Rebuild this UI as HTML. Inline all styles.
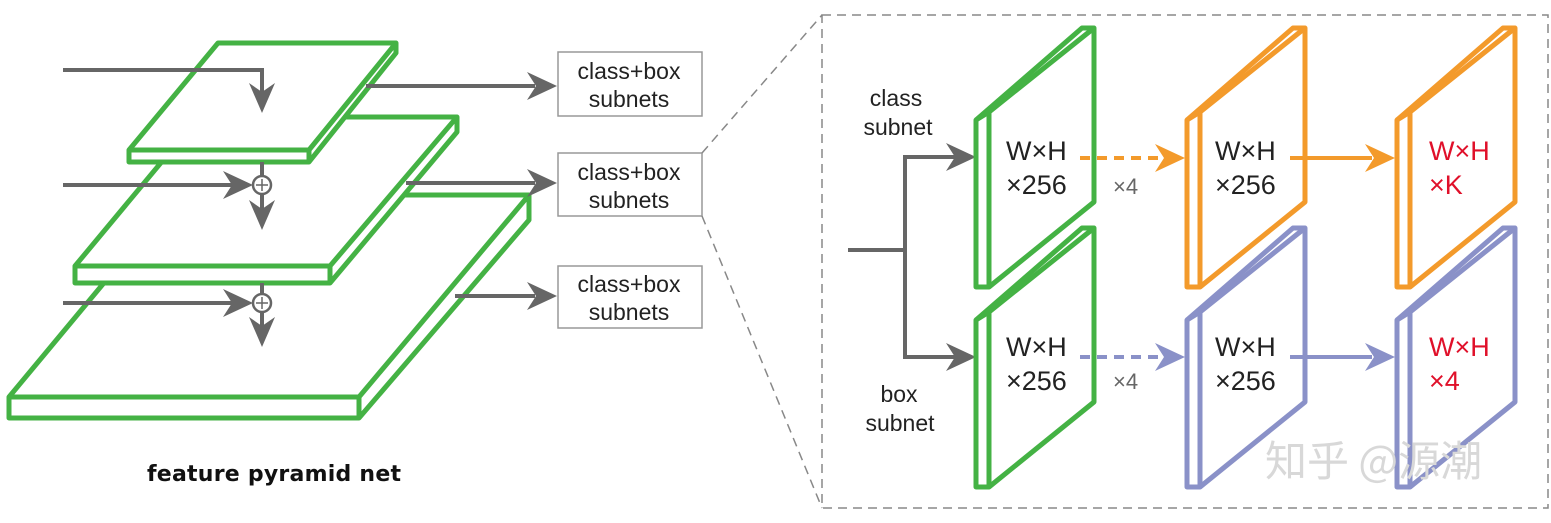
<!DOCTYPE html>
<html><head><meta charset="utf-8"><style>
html,body{margin:0;padding:0;background:#fff;}
svg{display:block;}
text{font-family:"Liberation Sans","DejaVu Sans",sans-serif;}
</style></head><body>
<svg width="1551" height="523" viewBox="0 0 1551 523" xmlns="http://www.w3.org/2000/svg">
<defs>
<g id="agh"><path d="M-30,-14 L0,0 L-30,14 L-21,0 Z" fill="#666"/></g>
<g id="agv"><path d="M-13,-30 L0,0 L13,-30 L0,-21 Z" fill="#666"/></g>
<g id="aoh"><path d="M-30,-14 L0,0 L-30,14 L-21,0 Z" fill="#f39a2b"/></g>
<g id="abh"><path d="M-30,-14 L0,0 L-30,14 L-21,0 Z" fill="#8a91c8"/></g>
</defs>

<!-- Bottom plate -->
<g stroke="#44b244" stroke-width="5" fill="#fff" stroke-linejoin="round">
<polygon points="9,397 177,195 529,195 529,220 359,418 9,418"/>
<polyline points="9,397 359,397 529,195" fill="none"/>
<line x1="359" y1="397" x2="359" y2="418"/>
</g>
<!-- Middle plate -->
<g stroke="#44b244" stroke-width="5" fill="#fff" stroke-linejoin="round">
<polygon points="75,266 199,117 457,117 457,132 330,283 75,283"/>
<polyline points="75,266 330,266 457,117" fill="none"/>
<line x1="330" y1="266" x2="330" y2="283"/>
</g>
<!-- Top plate -->
<g stroke="#44b244" stroke-width="5" fill="#fff" stroke-linejoin="round">
<polygon points="129,150 218,43 396,43 396,53 309,162 129,162"/>
<polyline points="129,150 309,150 396,43" fill="none"/>
<line x1="309" y1="150" x2="309" y2="162"/>
</g>

<!-- Left arrows -->
<g stroke="#666" stroke-width="4" fill="none">
<polyline points="63,70 262,70 262,95"/>
<line x1="63" y1="185" x2="235" y2="185"/>
<line x1="262" y1="162" x2="262" y2="176"/>
<line x1="262" y1="194" x2="262" y2="212"/>
<line x1="63" y1="303" x2="235" y2="303"/>
<line x1="262" y1="283" x2="262" y2="294"/>
<line x1="262" y1="312" x2="262" y2="330"/>
<line x1="366" y1="86" x2="535" y2="86"/>
<line x1="406" y1="183" x2="535" y2="183"/>
<line x1="455" y1="296" x2="535" y2="296"/>
</g>
<use href="#agv" x="262" y="113"/>
<use href="#agv" x="262" y="230"/>
<use href="#agv" x="262" y="347"/>
<use href="#agh" x="253" y="185"/>
<use href="#agh" x="253" y="303"/>
<use href="#agh" x="557" y="86"/>
<use href="#agh" x="557" y="183"/>
<use href="#agh" x="557" y="296"/>
<g stroke="#666" stroke-width="2.5" fill="#fff">
<circle cx="262" cy="185" r="9"/><circle cx="262" cy="303" r="9"/>
</g>
<g stroke="#666" stroke-width="1.5">
<line x1="256" y1="185" x2="268" y2="185"/><line x1="262" y1="179" x2="262" y2="191"/>
<line x1="256" y1="303" x2="268" y2="303"/><line x1="262" y1="297" x2="262" y2="309"/>
</g>

<!-- boxes -->
<g stroke="#999" stroke-width="1.5" fill="#fff">
<rect x="558" y="52" width="144" height="64"/>
<rect x="558" y="153" width="144" height="63"/>
<rect x="558" y="266" width="144" height="62"/>
</g>
<g font-size="23" fill="#222" text-anchor="middle">
<text x="629" y="79">class+box</text><text x="629" y="107">subnets</text>
<text x="629" y="180">class+box</text><text x="629" y="208">subnets</text>
<text x="629" y="292">class+box</text><text x="629" y="320">subnets</text>
</g>
<text x="274" y="481" font-size="22" font-weight="bold" text-anchor="middle" fill="#111" style="font-family:'DejaVu Sans',sans-serif" textLength="254">feature pyramid net</text>

<!-- dashed -->
<g stroke="#888" stroke-width="1.5" fill="none" stroke-dasharray="9,6">
<rect x="822" y="15" width="726" height="493"/>
<line x1="702" y1="153" x2="822" y2="15"/>
<line x1="702" y1="216" x2="822" y2="508"/>
</g>

<!-- right branch -->
<g stroke="#666" stroke-width="4" fill="none">
<line x1="848" y1="250" x2="905" y2="250"/>
<polyline points="955,157 905,157 905,357 955,357"/>
</g>
<use href="#agh" x="976" y="157"/>
<use href="#agh" x="976" y="357"/>
<g font-size="23" fill="#222" text-anchor="middle">
<text x="896" y="106">class</text><text x="898" y="135">subnet</text>
<text x="899" y="402">box</text><text x="900" y="431">subnet</text>
</g>

<!-- plates -->
<g id="pg" stroke="#44b244" stroke-width="5" fill="#fff" stroke-linejoin="round">
<polygon points="976,120 1082,28 1094,28 1094,202 989,287 976,287"/>
<polyline points="989,287 989,112 1094,28" fill="none"/>
<line x1="976" y1="120" x2="989" y2="112"/>
</g>
<use href="#pg" y="200"/>
<g id="po" stroke="#f39a2b" stroke-width="5" fill="#fff" stroke-linejoin="round">
<polygon points="1187,120 1293,28 1305,28 1305,202 1200,287 1187,287"/>
<polyline points="1200,287 1200,112 1305,28" fill="none"/>
<line x1="1187" y1="120" x2="1200" y2="112"/>
</g>
<use href="#po" x="210"/>
<g id="pb" stroke="#8a91c8" stroke-width="5" fill="#fff" stroke-linejoin="round">
<polygon points="1187,320 1293,228 1305,228 1305,402 1200,487 1187,487"/>
<polyline points="1200,487 1200,312 1305,228" fill="none"/>
<line x1="1187" y1="320" x2="1200" y2="312"/>
</g>
<use href="#pb" x="210"/>

<!-- inner arrows -->
<g stroke-width="4" fill="none">
<line x1="1080" y1="158" x2="1162" y2="158" stroke="#f39a2b" stroke-dasharray="10,7"/>
<line x1="1290" y1="158" x2="1372" y2="158" stroke="#f39a2b"/>
<line x1="1080" y1="357" x2="1162" y2="357" stroke="#8a91c8" stroke-dasharray="10,7"/>
<line x1="1290" y1="357" x2="1372" y2="357" stroke="#8a91c8"/>
</g>
<use href="#aoh" x="1185" y="158"/>
<use href="#aoh" x="1395" y="158"/>
<use href="#abh" x="1185" y="357"/>
<use href="#abh" x="1395" y="357"/>

<g font-size="27" fill="#222">
<text x="1006" y="160">W×H</text><text x="1006" y="194">×256</text>
<text x="1006" y="356">W×H</text><text x="1006" y="390">×256</text>
<text x="1215" y="160">W×H</text><text x="1215" y="194">×256</text>
<text x="1215" y="356">W×H</text><text x="1215" y="390">×256</text>
</g>
<g font-size="27" fill="#e0102a">
<text x="1429" y="160">W×H</text><text x="1429" y="194">×K</text>
<text x="1429" y="356">W×H</text><text x="1429" y="390">×4</text>
</g>
<g font-size="22" fill="#666">
<text x="1113" y="194">×4</text><text x="1113" y="389">×4</text>
</g>

<text x="1265" y="476" font-size="42" fill="#d8d8d8" style="font-family:'Noto Sans CJK SC',sans-serif">知乎 @源潮</text>
</svg>
</body></html>
